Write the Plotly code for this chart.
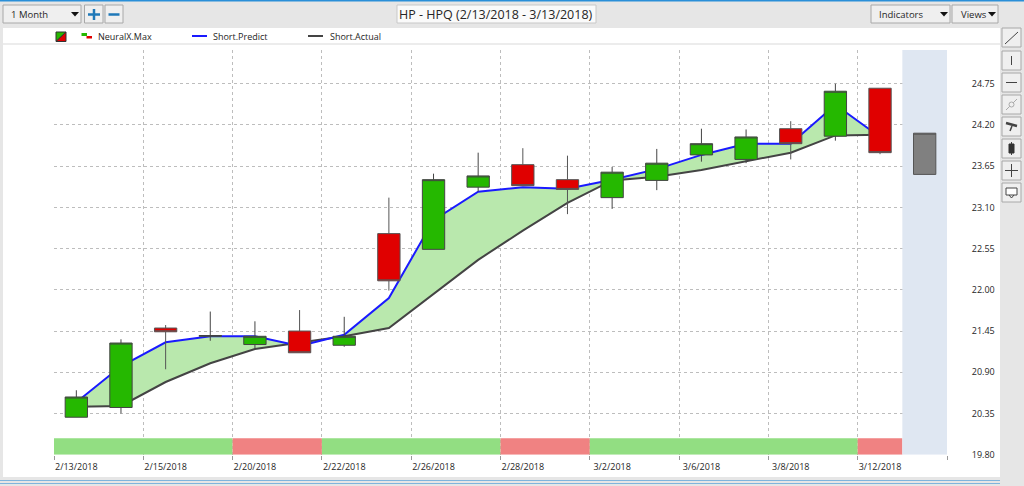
import plotly.graph_objects as go

dates = ["2/13/2018","2/14/2018","2/15/2018","2/16/2018","2/20/2018","2/21/2018","2/22/2018","2/23/2018","2/26/2018","2/27/2018",
         "2/28/2018","3/1/2018","3/2/2018","3/5/2018","3/6/2018","3/7/2018","3/8/2018","3/9/2018","3/12/2018","3/13/2018"]
candle_top = [20.57,21.29,21.49,21.39,21.38,21.45,21.38,22.75,23.47,23.52,23.67,23.47,23.57,23.69,23.95,24.04,24.15,24.65,24.69]
candle_bot = [20.30,20.43,21.44,21.38,21.27,21.16,21.26,22.12,22.54,23.37,23.39,23.34,23.23,23.46,23.80,23.74,23.95,24.05,23.83]
candle_high = [20.66,21.34,21.53,21.71,21.58,21.73,21.64,23.23,23.55,23.83,23.89,23.79,23.64,23.88,24.15,24.14,24.25,24.75,24.69]
candle_low = [20.30,20.35,20.94,21.32,21.22,21.16,21.24,21.99,22.54,23.31,23.39,23.01,23.08,23.33,23.71,23.69,23.74,23.99,23.81]
candle_color = ["G","G","R","G","G","R","G","R","G","G","R","R","G","G","G","G","R","G","R"]
signal = ["G","G","G","G","R","R","G","G","G","G","R","R","G","G","G","G","G","G","R"]
forecast_top = [24.09]
forecast_bot = [23.54]
predict = [20.50,20.98,21.30,21.38,21.38,21.25,21.40,21.89,22.93,23.31,23.37,23.35,23.47,23.61,23.80,23.95,23.95,24.47,24.04]
actual = [20.44,20.45,20.77,21.02,21.21,21.29,21.38,21.49,21.95,22.40,22.79,23.16,23.46,23.51,23.60,23.72,23.83,24.06,24.07]
y_ticks = [19.80,20.35,20.90,21.45,22.00,22.55,23.10,23.65,24.20,24.75]

W, H = 1024, 486
Y_MIN, Y_MAX = 19.80, 25.20
TXT = "#262626"
FONT = "Open Sans"
n = len(dates)
xs = list(range(len(actual)))

# Insert the crossings of the two lines so each filled region changes colour exactly there
fx, fp, fa = [], [], []
for i in xs:
    fx.append(i); fp.append(predict[i]); fa.append(actual[i])
    if i + 1 < len(xs):
        d0, d1 = predict[i] - actual[i], predict[i + 1] - actual[i + 1]
        if d0 * d1 < 0:
            t = d0 / (d0 - d1)
            v = actual[i] + t * (actual[i + 1] - actual[i])
            fx.append(i + t); fp.append(v); fa.append(v)
upper = [max(p, a) for p, a in zip(fp, fa)]
lower = [min(p, a) for p, a in zip(fp, fa)]

# merge equal neighbouring signals into one continuous block
runs = []
for i, s in enumerate(signal):
    if runs and runs[-1][0] == s:
        runs[-1][2] = i
    else:
        runs.append([s, i, i])

fig = go.Figure()
# signal strip and forecast shade
fig.add_trace(go.Bar(x=[(a + b) / 2 for _, a, b in runs], y=[0.22] * len(runs), base=Y_MIN,
                     width=[b - a + 1 for _, a, b in runs],
                     marker=dict(color=["#92de82" if s == "G" else "#f08282" for s, _, _ in runs], line_width=0),
                     hoverinfo="skip", showlegend=False))
fig.add_trace(go.Bar(x=[n - 1], y=[Y_MAX - Y_MIN], base=Y_MIN, width=1,
                     marker=dict(color="#dfe7f2", line_width=0), hoverinfo="skip", showlegend=False))
# fills
common = dict(mode="lines", line=dict(width=0), hoverinfo="skip", showlegend=False)
fig.add_trace(go.Scatter(x=fx, y=fa, **common))
fig.add_trace(go.Scatter(x=fx, y=upper, fill="tonexty", fillcolor="#b9e8ad", **common))
fig.add_trace(go.Scatter(x=fx, y=fa, **common))
fig.add_trace(go.Scatter(x=fx, y=lower, fill="tonexty", fillcolor="#f4c4c4", **common))
# lines
fig.add_trace(go.Scatter(x=xs, y=actual, mode="lines", name="Short.Actual", line=dict(color="#444444", width=2), showlegend=False))
fig.add_trace(go.Scatter(x=xs, y=predict, mode="lines", name="Short.Predict", line=dict(color="#1a1aff", width=2), showlegend=False))
# candles on an overlaid subplot so that they sit above the lines
opens = [b if s == "G" else t for t, b, s in zip(candle_top, candle_bot, candle_color)]
closes = [t if s == "G" else b for t, b, s in zip(candle_top, candle_bot, candle_color)]
fig.add_trace(go.Candlestick(x=xs, open=opens, close=closes, high=candle_high, low=candle_low,
                             name="NeuralX.Max", xaxis="x2", yaxis="y2", whiskerwidth=0, showlegend=False,
                             increasing=dict(fillcolor="#25b800", line=dict(color="#444444", width=1)),
                             decreasing=dict(fillcolor="#e00000", line=dict(color="#555555", width=1))))
fig.add_trace(go.Candlestick(x=[n - 1], open=forecast_bot, close=forecast_top, high=forecast_top, low=forecast_bot,
                             xaxis="x2", yaxis="y2", showlegend=False,
                             increasing=dict(fillcolor="#808080", line=dict(color="#555555", width=1))))

GRID = "#bdbdbd"
fig.update_layout(
    width=W, height=H, margin=dict(l=0, r=0, t=0, b=0, autoexpand=False),
    paper_bgcolor="#e6e6e6", plot_bgcolor="rgba(0,0,0,0)",
    barmode="overlay", boxmode="overlay", boxgap=0.5, boxgroupgap=0, showlegend=False,
    font=dict(family=FONT, size=9, color=TXT),
    xaxis=dict(domain=[54 / W, 947 / W], range=[-0.5, n - 0.5], tickmode="array",
               tickvals=list(range(0, n - 1, 2)), ticktext=[dates[i] for i in range(0, n - 1, 2)],
               ticks="outside", ticklen=3, tickcolor="rgba(0,0,0,0)", showgrid=False, zeroline=False,
               showline=False, tickfont=dict(size=9, color=TXT), automargin=False,
               minor=dict(tickmode="array", tickvals=[i - 0.5 for i in range(0, n + 1, 2)], showgrid=True,
                          gridcolor=GRID, griddash="dot", gridwidth=1, ticks="outside", ticklen=4, tickcolor="#999999")),
    yaxis=dict(domain=[1 - 454.7 / H, 1 - 50 / H], range=[Y_MIN, Y_MAX], side="right", anchor="x",
               tickmode="array", tickvals=y_ticks, ticktext=[f"{v:.2f}" for v in y_ticks],
               ticks="outside", ticklen=22, tickcolor="rgba(0,0,0,0)", automargin=False,
               showgrid=True, gridcolor=GRID, griddash="dot", gridwidth=1, zeroline=False,
               tickfont=dict(size=9, color=TXT)),
    xaxis2=dict(domain=[54 / W, 947 / W], overlaying="x", matches="x", visible=False, rangeslider=dict(visible=False)),
    yaxis2=dict(domain=[1 - 454.7 / H, 1 - 50 / H], overlaying="y", matches="y", visible=False, anchor="x2"),
)

def py(v):
    return 1 - v / H

shapes, notes = [], []
def rect(x0, y0, x1, y1, fill="#efefef", line="#a8a8a8", layer="above", w=1):
    shapes.append(dict(type="rect", xref="paper", yref="paper", x0=x0 / W, x1=x1 / W, y0=py(y0), y1=py(y1),
                       fillcolor=fill, line=dict(color=line, width=w), layer=layer))
def seg(x0, y0, x1, y1, color="#444444", w=1):
    shapes.append(dict(type="line", xref="paper", yref="paper", x0=x0 / W, x1=x1 / W, y0=py(y0), y1=py(y1),
                       line=dict(color=color, width=w), layer="above"))
def tri(cx, cy, color="#111111"):
    shapes.append(dict(type="path", xref="paper", yref="paper", fillcolor=color, line=dict(width=0),
                       path=f"M {(cx-4)/W} {py(cy-2)} L {(cx+4)/W} {py(cy-2)} L {cx/W} {py(cy+2.5)} Z"))
def text(x, y, s, size=9, anchor="left", color=TXT):
    notes.append(dict(xref="paper", yref="paper", x=x / W, y=py(y), text=s, showarrow=False, xanchor=anchor,
                      yanchor="middle", font=dict(size=size, color=color, family=FONT), xshift=-1))

# frame
rect(3, 28, 1000, 477, fill="#ffffff", line="rgba(0,0,0,0)", layer="below")
seg(3, 44, 1000, 44, color="#d9d9d9")
seg(0, 0.7, W, 0.7, color="#2a8fd8", w=1.5)
seg(0, 480.5, 1000, 480.5, color="#7fb4dc", w=1)
seg(0, 483.5, 1000, 483.5, color="#7fb4dc", w=1)

# toolbar
rect(3, 5, 81, 23)
text(10, 14.5, "1 Month", size=9.5)
tri(75, 14)
rect(84.5, 5, 103, 23)
seg(88, 14.5, 100, 14.5, color="#1f78b8", w=2.5)
seg(94, 9, 94, 20, color="#1f78b8", w=2.5)
rect(105, 5, 123, 23)
seg(108.5, 14.5, 119.5, 14.5, color="#1f78b8", w=2.5)
rect(397, 5, 596, 23, fill="#fafafa", line="#c8c8c8")
text(497, 14.5, "HP - HPQ (2/13/2018 - 3/13/2018)", size=12.5, anchor="center")
rect(871, 5, 950, 23)
text(878, 14.5, "Indicators", size=9.5)
tri(944, 14)
rect(952, 5, 998, 23)
text(960, 14.5, "Views", size=9.5)
tri(992, 14)

# legend
shapes.append(dict(type="path", xref="paper", yref="paper", fillcolor="#25b800", line=dict(color="#333333", width=1),
                   path=f"M {56/W} {py(32)} L {66/W} {py(32)} L {56/W} {py(41.5)} Z"))
shapes.append(dict(type="path", xref="paper", yref="paper", fillcolor="#e00000", line=dict(color="#333333", width=1),
                   path=f"M {66/W} {py(32)} L {66/W} {py(41.5)} L {56/W} {py(41.5)} Z"))
rect(81.5, 33, 87, 36, fill="#25b800", line="rgba(0,0,0,0)")
rect(86.5, 36, 92, 38.5, fill="#e00000", line="rgba(0,0,0,0)")
text(97, 36, "NeuralX.Max")
seg(192, 36, 207, 36, color="#1a1aff", w=2)
text(212, 36, "Short.Predict")
seg(308, 36, 323, 36, color="#444444", w=2)
text(329, 36, "Short.Actual")

# right-hand drawing tools
tops = [28, 51, 73, 95, 117, 139, 161, 183]
for t in tops:
    rect(1002, t, 1021, t + 19)
seg(1005, 44, 1018, 32)
seg(1011.5, 56, 1011.5, 65)
seg(1006, 82.5, 1017, 82.5)
seg(1006, 110, 1017, 99, color="#aaaaaa")
shapes.append(dict(type="circle", xref="paper", yref="paper", x0=1009 / W, x1=1014 / W, y0=py(107), y1=py(102),
                   line=dict(color="#aaaaaa", width=1), fillcolor="#efefef"))
seg(1006, 123, 1017, 126, w=2.5)
seg(1012, 126, 1010, 131, w=1.5)
seg(1011.5, 142, 1011.5, 155)
rect(1009, 144, 1014, 153, fill="#333333", line="#333333")
seg(1005, 170.5, 1018, 170.5)
seg(1011.5, 164, 1011.5, 177)
rect(1006, 188, 1017, 195, fill="#ffffff", line="#444444")
seg(1009, 195, 1011.5, 198)
seg(1014, 195, 1011.5, 198)

fig.update_layout(shapes=shapes, annotations=notes)
fig.write_html("out.html", config=dict(displayModeBar=False),
               post_script="document.body.style.margin='0';document.body.style.overflow='hidden';")
